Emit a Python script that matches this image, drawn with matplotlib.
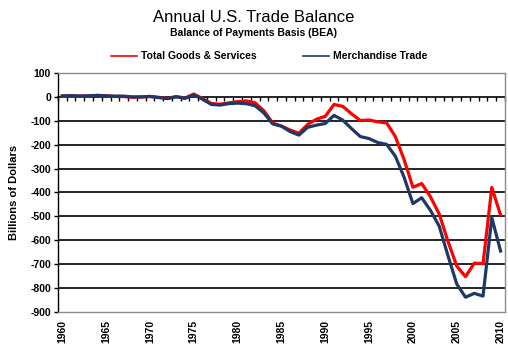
import matplotlib.pyplot as plt
import numpy as np

# Data: annual US trade balance, billions of dollars (BEA)
years = list(range(1960, 2011))
total_gs = [3.5, 4.2, 3.4, 4.2, 6.8, 4.9, 2.3, 1.9, -1.3, 0.1,
            2.3, -1.3, -5.4, 1.9, -4.3, 12.4, -6.1, -27.2, -29.8, -24.6,
            -19.4, -16.2, -24.2, -57.8, -109.1, -121.9, -138.5, -151.7, -114.6, -93.1,
            -80.9, -31.1, -39.2, -70.3, -98.5, -96.4, -104.1, -108.3, -166.1, -263.2,
            -378.3, -362.7, -418.2, -490.5, -605.0, -708.6, -753.3, -696.7, -698.3, -379.2,
            -494.7]
merch = [4.9, 5.6, 4.5, 5.2, 6.8, 5.0, 3.8, 3.8, 0.6, 0.6,
         2.6, -2.3, -6.4, 0.9, -5.5, 8.9, -9.5, -31.1, -33.9, -27.6,
         -25.5, -28.0, -36.5, -67.1, -112.5, -122.2, -145.1, -159.6, -127.0, -117.7,
         -111.0, -76.9, -96.9, -132.5, -165.8, -174.2, -191.0, -198.4, -248.2, -337.1,
         -446.8, -422.4, -475.2, -541.6, -665.4, -783.8, -839.5, -823.2, -834.7, -505.9,
         -645.9]
label_years = list(range(1960, 2011, 5))
y_ticks = list(range(-900, 101, 100))

plt.rcParams['font.family'] = ['Liberation Sans', 'DejaVu Sans']

fig = plt.figure(figsize=(5.08, 3.57), dpi=100)
ax = fig.add_axes([0.114, 0.127, 0.880, 0.668])

# solid gridlines between the dashed border and the zero axis
for lev in y_ticks[1:-2]:
    ax.axhline(lev, color='black', lw=1.2, zorder=1)

ax.plot(years, total_gs, color='#FF0000', lw=2.3, label='Total Goods & Services', zorder=3)
ax.plot(years, merch, color='#1F3864', lw=2.3, label='Merchandise Trade', zorder=4)

ax.set_xlim(1959.5, 2010.5)
ax.set_ylim(-900, 100)

# plot border: dashed gray, left spine solid black
for side in ['top', 'right', 'bottom']:
    ax.spines[side].set_color('#8C8C8C')
    ax.spines[side].set_linestyle((0, (2, 1)))
    ax.spines[side].set_linewidth(1.0)
ax.spines['left'].set_color('black')
ax.spines['left'].set_linewidth(1.0)

ax.set_yticks(y_ticks)
ax.set_yticklabels([str(v) for v in y_ticks], fontsize=7.5, fontweight='bold')
ax.tick_params(axis='y', direction='out', length=3, width=1, pad=2)

ax.set_xticks(label_years)
ax.set_xticklabels([str(y) for y in label_years], rotation=90, fontsize=7.5, fontweight='bold')
ax.tick_params(axis='x', length=0, pad=6)

# category axis crossing at zero, ticks between years
zero_ax = ax.secondary_xaxis(0.9)
zero_ax.set_alignment('bottom')
zero_ax.set_xticks(np.arange(1959.5, 2011, 1.0))
zero_ax.tick_params(direction='out', length=3, width=1, labelbottom=False, labeltop=False)
zero_ax.spines['bottom'].set_color('black')
zero_ax.spines['bottom'].set_linewidth(1.2)

ax.set_ylabel('Billions of Dollars', fontsize=8, fontweight='bold', labelpad=8)

fig.text(0.5, 0.952, 'Annual U.S. Trade Balance', ha='center', va='center', fontsize=12)
fig.text(0.5, 0.908, 'Balance of Payments Basis (BEA)', ha='center', va='center', fontsize=7.5,
         fontweight='bold')

leg = ax.legend(loc='center', bbox_to_anchor=(0.473, 1.071), ncol=2, frameon=False,
                fontsize=7.5, handlelength=2.5, handletextpad=0.4, columnspacing=4.4)
for line in leg.get_lines():
    line.set_linewidth(1.2)
for t in leg.get_texts():
    t.set_fontweight('bold')

fig.savefig('out.png', dpi=100)
